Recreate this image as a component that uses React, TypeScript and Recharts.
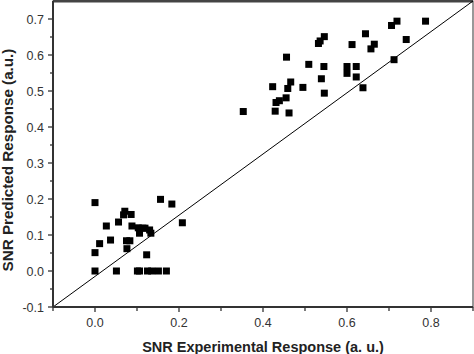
import React from 'react';
import { ScatterChart, Scatter, XAxis, YAxis, ReferenceLine, ReferenceArea } from 'recharts';

// low-response cluster
const lowX = [0, 0, 0, 0.011, 0.027, 0.037, 0.051, 0.056, 0.068, 0.071, 0.086, 0.075, 0.083, 0.076, 0.088, 0.101, 0.106, 0.103, 0.106, 0.114, 0.119, 0.125, 0.123, 0.13, 0.133, 0.135, 0.151, 0.17, 0.156, 0.183, 0.208];
const lowY = [0.19, 0.051, 0, 0.076, 0.125, 0.086, 0, 0.136, 0.156, 0.166, 0.157, 0.084, 0.084, 0.062, 0.125, 0, 0, 0.12, 0.105, 0.119, 0.119, 0, 0.045, 0.114, 0.105, 0, 0, 0, 0.199, 0.186, 0.134];

// high-response cluster
const highX = [0.353, 0.423, 0.429, 0.431, 0.439, 0.456, 0.455, 0.459, 0.462, 0.466, 0.495, 0.509, 0.532, 0.536, 0.546, 0.539, 0.545, 0.546, 0.6, 0.6, 0.612, 0.622, 0.622, 0.638, 0.644, 0.657, 0.665, 0.706, 0.719, 0.712, 0.741, 0.787];
const highY = [0.443, 0.512, 0.444, 0.468, 0.473, 0.594, 0.481, 0.507, 0.439, 0.525, 0.51, 0.574, 0.632, 0.639, 0.651, 0.534, 0.568, 0.494, 0.568, 0.549, 0.629, 0.568, 0.539, 0.509, 0.659, 0.617, 0.63, 0.682, 0.694, 0.587, 0.643, 0.694];

const xTicks = [-0.1, 0, 0.1, 0.2, 0.3, 0.4, 0.5, 0.6, 0.7, 0.8, 0.9];
const xMajor = [0, 0.2, 0.4, 0.6, 0.8];
const yTicks = [-0.1, -0.05, 0, 0.05, 0.1, 0.15, 0.2, 0.25, 0.3, 0.35, 0.4, 0.45, 0.5, 0.55, 0.6, 0.65, 0.7];
const yMajor = [-0.1, 0, 0.1, 0.2, 0.3, 0.4, 0.5, 0.6, 0.7];

const lowData = lowX.map((x, i) => ({ x, y: lowY[i] }));
const highData = highX.map((x, i) => ({ x, y: highY[i] }));

const FONT = '"Liberation Sans", Arial, sans-serif';
const TS = 5;
const TM = 4;

const isMajor = (list: number[], v: number) => list.some((m) => Math.abs(m - v) < 1e-6);

const XTick = (props: any) => {
  const { x, y, payload } = props;
  const axisY = y - TS - TM;
  const major = isMajor(xMajor, payload.value);
  return (
    <g>
      <line x1={x} x2={x} y1={axisY} y2={axisY + (major ? 5 : 4)} stroke="#333" strokeWidth={1.3} />
      {major && (
        <text x={x} y={axisY + 11} dy="0.71em" textAnchor="middle" fontSize={12.5} fontFamily={FONT} fill="#333">
          {payload.value.toFixed(1)}
        </text>
      )}
    </g>
  );
};

const YTick = (props: any) => {
  const { x, y, payload } = props;
  const axisX = x + TS + TM;
  const major = isMajor(yMajor, payload.value);
  return (
    <g>
      <line x1={axisX} x2={axisX - (major ? 5 : 3)} y1={y} y2={y} stroke="#333" strokeWidth={1.3} />
      {major && (
        <text x={axisX - 9} y={y} dy="0.36em" textAnchor="end" fontSize={12.5} fontFamily={FONT} fill="#333">
          {payload.value.toFixed(1)}
        </text>
      )}
    </g>
  );
};

const Square = (props: any) => (
  <rect x={props.cx - 3.5} y={props.cy - 3.5} width={7} height={7} fill="#000" />
);

const App = () => {
  return (
    <div style={{ position: 'absolute', left: 0, top: 0 }}>
      <ScatterChart width={474} height={354} margin={{ top: 1, right: 1, bottom: 0, left: 0 }}>
        <XAxis
          type="number"
          dataKey="x"
          domain={[-0.1, 0.9]}
          ticks={xTicks}
          interval={0}
          height={47}
          tickSize={TS}
          tickMargin={TM}
          tickLine={false}
          tick={<XTick />}
          axisLine={{ stroke: '#333', strokeWidth: 2 }}
          allowDataOverflow
          label={() => (
            <text x={263} y={351.5} textAnchor="middle" fontSize={14.5} fontWeight="bold" fontFamily={FONT} fill="#222">
              SNR Experimental Response (a. u.)
            </text>
          )}
        />
        <YAxis
          type="number"
          dataKey="y"
          domain={[-0.1, 0.75]}
          ticks={yTicks}
          interval={0}
          width={53}
          tickSize={TS}
          tickMargin={TM}
          tickLine={false}
          tick={<YTick />}
          axisLine={{ stroke: '#333', strokeWidth: 2 }}
          allowDataOverflow
          label={() => (
            <text transform="rotate(-90)" x={-160} y={12.5} textAnchor="middle" fontSize={15.2} fontWeight="bold" fontFamily={FONT} fill="#222">
              SNR Predicted Response (a.u.)
            </text>
          )}
        />
        <ReferenceArea x1={-0.1} x2={0.9} y1={-0.1} y2={0.75} fill="none" stroke="#555" strokeWidth={1.2} />
        <ReferenceLine y={0.75} stroke="#444" strokeWidth={3} ifOverflow="visible" />
        <ReferenceLine
          segment={[{ x: -0.1, y: -0.1 }, { x: 0.9, y: 0.75 }]}
          stroke="#000"
          strokeWidth={1}
          ifOverflow="visible"
        />
        <Scatter data={lowData} shape={<Square />} isAnimationActive={false} />
        <Scatter data={highData} shape={<Square />} isAnimationActive={false} />
      </ScatterChart>
    </div>
  );
};

export default App;
